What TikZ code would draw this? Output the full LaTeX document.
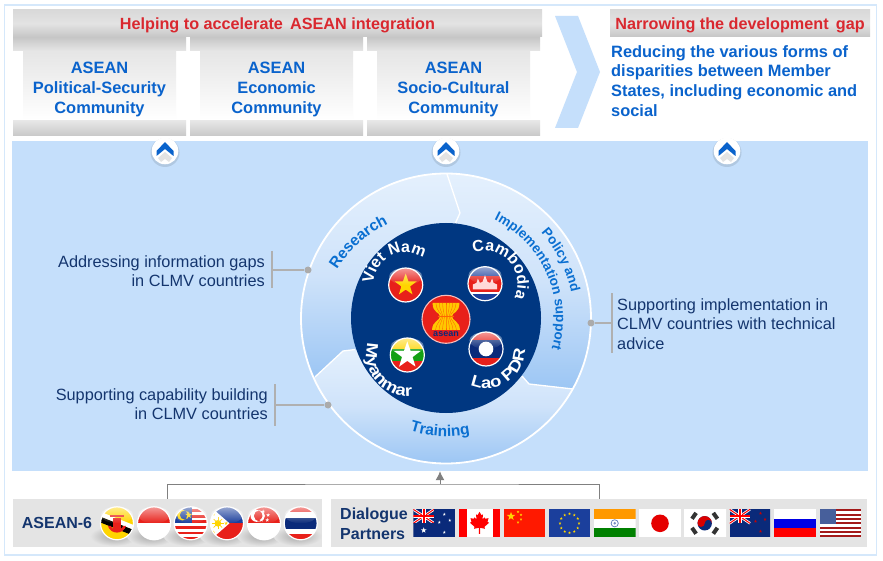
\documentclass[tikz,border=0pt]{standalone}
\usepackage{fontspec}
\setmainfont{Liberation Sans}
\usetikzlibrary{arrows.meta,decorations.text,fadings}
\definecolor{frameblue}{HTML}{D5E8FB}
\definecolor{panelblue}{HTML}{C5DFFB}
\definecolor{headred}{HTML}{D9282F}
\definecolor{headblue}{HTML}{0A63CC}
\definecolor{ringblue}{HTML}{0A6FD1}
\definecolor{labelnavy}{HTML}{14356E}
\definecolor{innernavy}{HTML}{003781}
\definecolor{barlight}{HTML}{E6E6E6}
\definecolor{bardark}{HTML}{C8C8C8}
\definecolor{bartop}{HTML}{D9D9D9}
\definecolor{barmid}{HTML}{E3E3E3}
\definecolor{barbot}{HTML}{C6C6C6}
\definecolor{bottomgray}{HTML}{E4E4E4}
\definecolor{leadgray}{HTML}{B0B0B0}
\definecolor{conngray}{HTML}{808080}
\definecolor{fred}{HTML}{E8201A}
\definecolor{fgold}{HTML}{FFD500}
\definecolor{fblue}{HTML}{1B3F9C}
\definecolor{fnavy}{HTML}{0A2A7A}
\definecolor{ugreen}{HTML}{14A014}
\newcommand\fsz[1]{\fontsize{#1}{#1}\selectfont}
\newcommand\fstar[4]{\begin{scope}[shift={(#1,#2)}]\fill[#4] (-90:#3) -- (-54:{0.4*#3}) -- (-18:#3) -- (18:{0.4*#3}) -- (54:#3) -- (90:{0.4*#3}) -- (126:#3) -- (162:{0.4*#3}) -- (198:#3) -- (234:{0.4*#3}) -- cycle;\end{scope}}
\newcommand\rflag[4]{\begin{scope}[shift={(#1,#2)},x=#3pt,y=-#3pt]
\begin{scope}\clip (0,0) circle[radius=1];#4\end{scope}
\fill[white,path fading=south,opacity=.55] (0,-.5) ellipse[x radius=.98,y radius=.5];
\draw[white,line width=1.2pt] (0,0) circle[radius=1];
\end{scope}}
\newcommand\qflag[4]{\begin{scope}[shift={(#1,#2)}]\begin{scope}\clip (0,0) rectangle (#3,28);#4\end{scope}\end{scope}}
\newcommand\ujack[2]{\fill[fnavy] (0,0) rectangle (#1,#2);
\draw[white,line width=2.6pt] (0,0) -- (#1,#2) (#1,0) -- (0,#2);
\draw[red,line width=1pt] (0,0) -- (#1,#2) (#1,0) -- (0,#2);
\draw[white,line width=3.6pt] ({#1/2},0) -- ({#1/2},#2) (0,{#2/2}) -- (#1,{#2/2});
\draw[red,line width=2.2pt] ({#1/2},0) -- ({#1/2},#2) (0,{#2/2}) -- (#1,{#2/2});}
\newcommand\arctext[7]{\begin{scope}[shift={(#1,#2)}]\path[decorate,decoration={text along path,text align=center,text={|#6|#7}}] (#4:#3) arc[start angle=#4,end angle=#5,radius=#3];\end{scope}}
\newfontfamily\widebold[FakeStretch=1.16]{Liberation Sans Bold}
\newcommand\fwhite{\fsz{16}\bfseries\color{white}}
\newcommand\fwhitewide{\widebold\fsz{16}\color{white}}
\newcommand\fring{\fsz{15.5}\bfseries\color{ringblue}}
\newcommand\fringsm{\fsz{13.5}\bfseries\color{ringblue}}
\newcommand\upbutton[1]{\begin{scope}[shift={(#1)}]
\fill[black,opacity=.10] (0,1.5) circle[radius=14.5];
\fill[white] (0,0) circle[radius=13.3];
\fill[gray!22] (-7,7) -- (0,1) -- (7,7) -- (4,11) -- (0,8) -- (-4,11) -- cycle;
\fill[headblue] (-8.5,0) -- (0,-9) -- (8.5,0) -- (8.5,5) -- (0,-2) -- (-8.5,5) -- cycle;
\end{scope}}
\tikzset{
 graybar/.style={top color=bartop,bottom color=barbot,middle color=barmid},
 headtext/.style={font=\fsz{16.2}\bfseries,text=headred,inner sep=0},
 commtext/.style={font=\fontsize{16.4}{20}\selectfont\bfseries,text=headblue,align=center,inner sep=0},
 leadtext/.style={font=\fontsize{16.3}{19.5}\selectfont,text=labelnavy,inner sep=0},
 leadline/.style={draw=leadgray,line width=1.1pt},
 leaddot/.style={circle,fill=leadgray!90!gray,minimum size=7pt,inner sep=0},
 connline/.style={draw=conngray,line width=1pt},
 divider/.style={draw=white,line width=1.3pt},
 botpanel/.style={fill=bottomgray,minimum height=48pt,inner sep=0},
 bottext/.style={font=\fontsize{16}{20}\selectfont\bfseries,text=labelnavy,inner sep=0,align=left},
}
\definecolor{ringdark}{HTML}{9CC6F4}
\definecolor{ringmid}{HTML}{CFE3FA}
\definecolor{ringtop}{HTML}{E4F0FD}
\begin{document}
\begin{tikzpicture}[x=1pt,y=-1pt]
\useasboundingbox (0,0) rectangle (883,561);
\fill[white] (0,0) rectangle (883,561);
\draw[frameblue,line width=1.4pt] (4.5,5) rectangle (876.5,555);
\shade[graybar] (13,10) rectangle (542,37);
\shade[top color=bardark,bottom color=barlight] (13,38) rectangle (186,51);
\shade[top color=bardark,bottom color=barlight] (190,38) rectangle (363,51);
\shade[top color=bardark,bottom color=barlight] (367,38) rectangle (540,51);
\shade[top color=barlight,bottom color=white] (23,52) rectangle (176,120);
\shade[top color=barlight,bottom color=white] (200,52) rectangle (353,120);
\shade[top color=barlight,bottom color=white] (377,52) rectangle (530,120);
\shade[top color=barlight,bottom color=bardark] (13,121) rectangle (186,136);
\shade[top color=barlight,bottom color=bardark] (190,121) rectangle (363,136);
\shade[top color=barlight,bottom color=bardark] (367,121) rectangle (540,136);
\shade[graybar] (610,10) rectangle (870,37);
\node[headtext] (h1) at (277.5,25.5) {Helping to accelerate\, ASEAN integration};
\node[headtext] (h2) at (740,25.5) {Narrowing the development\, gap};
\node[commtext] (c1) at (99.5,89) {ASEAN\\Political-Security\\Community};
\node[commtext] (c2) at (276.5,89) {ASEAN\\Economic\\Community};
\node[commtext] (c3) at (453.5,89) {ASEAN\\Socio-Cultural\\Community};
\fill[panelblue] (555,16) -- (578,16) -- (600,72) -- (578,128) -- (555,128) -- (577,72) -- cycle;
\node[commtext,align=left,anchor=north west,font=\fontsize{16.4}{19.7}\selectfont\bfseries] (reduce) at (611,45) {Reducing the various forms of\\disparities between Member\\States, including economic and\\social};
\node[fill=panelblue,minimum width=856pt,minimum height=330pt,inner sep=0] (panel) at (440,306) {};
\upbutton{165,151}
\upbutton{446,151}
\upbutton{727,151}
\begin{scope}
\clip (446,318.5) circle[radius=145];
\shade[top color=ringtop,bottom color=ringdark,middle color=ringmid] (447,174) -- (460,213) -- (455,224) -- (446,318) -- (355,349.5) -- (343,351) -- (315,377) -- (290,377) -- (290,174) -- cycle;
\shade[top color=ringtop,bottom color=ringdark,middle color=ringmid] (447,174) -- (610,174) -- (610,389) -- (573,389) -- (529,384) -- (522,376) -- (446,318) -- (455,224) -- (460,213) -- cycle;
\shade[top color=ringtop,bottom color=ringdark,middle color=ringmid] (355,349.5) -- (343,351) -- (315,377) -- (290,377) -- (290,463.5) -- (610,463.5) -- (610,389) -- (573,389) -- (529,384) -- (522,376) -- (446,349.5) -- cycle;
\draw[divider] (447,174) -- (460,213) -- (455,224);
\draw[divider] (573,389) -- (529,384) -- (522,376);
\draw[divider] (315,377) -- (343,351) -- (355,349.5);
\end{scope}
\draw[white,line width=1.8pt] (446,318.5) circle[radius=145];
\fill[innernavy] (446,318) circle[radius=95];
\arctext{443}{336}{125}{196}{260}{\fring}{Research}
\arctext{446}{318.5}{118}{125}{61}{\fring}{Training}
\arctext{446}{318.5}{128}{300}{366}{\fringsm}{Policy and}
\arctext{446}{318.5}{110}{272}{400}{\fringsm}{Implementation support}
\arctext{405.7}{285}{32.5}{140}{345}{\fwhite}{Viet Nam}
\arctext{485}{283.7}{32.5}{215}{420}{\fwhite}{Cambodia}
\arctext{486}{349}{39}{155}{-41}{\fwhitewide}{Lao PDR}
\arctext{407.3}{355}{41}{250}{30}{\fwhitewide}{Myanmar}
\rflag{405.7}{285}{17}{\fill[fred] (-1,-1) rectangle (1,1);\fstar{0}{0}{.68}{fgold}}
\rflag{485}{283.7}{17}{\fill[fblue] (-1,-1) rectangle (1,1);\fill[fred] (-1,-.45) rectangle (1,.5);
 \fill[white!85!red] (-.72,.34) -- (-.72,.05) -- (-.5,-.05) -- (-.42,-.3) -- (-.3,-.05) -- (-.15,-.1) -- (0,-.5) -- (.15,-.1) -- (.3,-.05) -- (.42,-.3) -- (.5,-.05) -- (.72,.05) -- (.72,.34) -- cycle;
 \fill[white] (-1,.5) rectangle (1,.62);}
\rflag{486}{349}{17}{\fill[fred] (-1,-1) rectangle (1,1);\fill[fnavy] (-1,-.55) rectangle (1,.55);\fill[white] (0,0) circle[radius=.43];}
\rflag{407.3}{355}{17}{\fill[fgold] (-1,-1) rectangle (1,-.33);\fill[ugreen] (-1,-.33) rectangle (1,.33);\fill[fred] (-1,.33) rectangle (1,1);\fstar{0}{.02}{.82}{white}}
\begin{scope}[shift={(446,319.3)},x=24pt,y=-24pt]
\fill[fred] (0,0) circle[radius=1];
\fill[fgold!85!orange] (-.56,-.68) -- (.56,-.68) .. controls (.56,-.25) and (.25,-.3) .. (.25,-.12) .. controls (.25,.05) and (.58,.08) .. (.58,.44) -- (-.58,.44) .. controls (-.58,.08) and (-.25,.05) .. (-.25,-.12) .. controls (-.25,-.3) and (-.56,-.25) .. (-.56,-.68) -- cycle;
\foreach \t in {-.75,-.5,-.25,0,.25,.5,.75}{\draw[orange!80!red,line width=.35pt] ({.56*\t},-.68) .. controls ({.5*\t},-.25) and ({.25*\t},-.3) .. ({.25*\t},-.12) .. controls ({.25*\t},.05) and ({.5*\t},.08) .. ({.58*\t},.44);}
\draw[orange!80!red,line width=.5pt] (-.32,-.12) -- (.32,-.12);
\node[font=\fsz{9}\bfseries,text=fnavy,inner sep=0] (aseantext) at (0,.6) {asean};
\draw[white!70!fred,line width=1.1pt] (0,0) circle[radius=1];
\end{scope}
\node[leaddot] (d1) at (308,270) {};
\node[leaddot] (d2) at (328,405) {};
\node[leaddot] (d3) at (591,323) {};
\coordinate (b1) at (272,270);
\coordinate (b2) at (275,405);
\coordinate (b3) at (612,323);
\draw[leadline] (272,251) -- (272,288);
\draw[leadline] (275,384) -- (275,426);
\draw[leadline] (612,293) -- (612,353);
\draw[leadline] (b1) -- (d1);
\draw[leadline] (b2) -- (d2);
\draw[leadline] (b3) -- (d3);
\node[leadtext,align=right,anchor=east] (l1) at (265,271) {Addressing information gaps\\in CLMV countries};
\node[leadtext,align=right,anchor=east] (l2) at (268,404) {Supporting capability building\\in CLMV countries};
\node[leadtext,align=left,anchor=west] (l3) at (617,324) {Supporting implementation in\\CLMV countries with technical\\advice};
\node[botpanel,minimum width=309pt] (asean6) at (167.5,523) {};
\node[botpanel,minimum width=536pt] (dialogue) at (599,523) {};
\coordinate (hub) at (440,484);
\draw[connline] (asean6.north) |- (hub) -| (dialogue.north);
\draw[connline,-{Latex[length=9pt,width=9pt]}] (hub) -- (panel.south);
\node[bottext] (t6) at (57,523) {ASEAN-6};
\node[bottext] (tdp) at (374,523.5) {Dialogue\\Partners};
\foreach \cx in {117,154,190.7,227,264,300.7}{
 \shade[inner color=gray!70,outer color=bottomgray] (\cx-3,536) ellipse[x radius=24,y radius=10];}
\rflag{117}{523.3}{16.5}{\fill[fgold] (-1,-1) rectangle (1,1);\fill[white] (-1,-.7) -- (1,.1) -- (1,.4) -- (-1,-.4) -- cycle;\fill[black] (-1,-.4) -- (1,.4) -- (1,.75) -- (-1,-.05) -- cycle;\fill[fred] (-.22,-.35) rectangle (.22,.45);\fill[fred] (-.55,.15) .. controls (-.4,.7) and (.4,.7) .. (.55,.15) -- (.4,.15) .. controls (.3,.45) and (-.3,.45) .. (-.4,.15) -- cycle;\fill[fred] (-.4,-.5) rectangle (.4,-.38);}
\rflag{154}{523.3}{16.5}{\fill[fred] (-1,-1) rectangle (1,0);\fill[white] (-1,0) rectangle (1,1);}
\rflag{190.7}{523.3}{16.5}{\fill[white] (-1,-1) rectangle (1,1);\foreach \y in {-.86,-.52,-.18,.16,.5,.84}{\fill[fred] (-1,\y) rectangle (1,\y+.17);}\fill[fblue] (-1,-1) rectangle (.05,0);\fill[fgold,even odd rule] (-.5,-.5) circle[radius=.33] (-.38,-.5) circle[radius=.28];\fstar{-.12}{-.5}{.22}{fgold}}
\rflag{227}{523.3}{16.5}{\fill[fblue] (-1,-1) rectangle (1,0);\fill[fred] (-1,0) rectangle (1,1);\fill[white] (-1,-1) -- (.15,0) -- (-1,1) -- cycle;\fill[fgold] (-.55,0) circle[radius=.2];\foreach \a in {0,45,...,315}{\draw[fgold,line width=.7pt] (-.55,0) -- ++(\a:.36);}\fstar{-.82}{-.55}{.11}{fgold}\fstar{-.82}{.55}{.11}{fgold}\fstar{-.05}{0}{.11}{fgold}}
\rflag{264}{523.3}{16.5}{\fill[fred] (-1,-1) rectangle (1,0);\fill[white] (-1,0) rectangle (1,1);\fill[white,even odd rule] (-.45,-.45) circle[radius=.36] (-.28,-.45) circle[radius=.34];\fstar{-.05}{-.72}{.12}{white}\fstar{.25}{-.5}{.12}{white}\fstar{.2}{-.2}{.12}{white}\fstar{-.15}{-.2}{.12}{white}}
\rflag{300.7}{523.3}{16.5}{\fill[fred] (-1,-1) rectangle (1,1);\fill[white] (-1,-.66) rectangle (1,.66);\fill[fnavy] (-1,-.33) rectangle (1,.33);}
\qflag{413.3}{509.3}{41.7}{\ujack{20.8}{14}\fill[fnavy] (20.8,0) rectangle (42,28);\fill[fnavy] (0,14) rectangle (21,28);\fstar{10.4}{21}{3}{white}\fstar{31}{5}{1.6}{white}\fstar{36.5}{11}{1.6}{white}\fstar{26}{13}{1.6}{white}\fstar{31}{23}{1.6}{white}}
\qflag{459}{509.3}{41}{\fill[white] (0,0) rectangle (41,28);\fill[red] (0,0) rectangle (7.5,28);\fill[red] (33.5,0) rectangle (41,28);
 \begin{scope}[shift={(20.5,13.5)}]\fill[red] (0,-11) -- (2,-7.5) -- (3.5,-8.5) -- (3,-3.5) -- (5,-5.5) -- (5.7,-4) -- (9,-4.7) -- (8,-1) -- (9.5,0) -- (5,4) -- (5.5,6) -- (.6,5) -- (.6,11) -- (-.6,11) -- (-.6,5) -- (-5.5,6) -- (-5,4) -- (-9.5,0) -- (-8,-1) -- (-9,-4.7) -- (-5.7,-4) -- (-5,-5.5) -- (-3,-3.5) -- (-3.5,-8.5) -- (-2,-7.5) -- cycle;\end{scope}}
\qflag{504}{509.3}{41}{\fill[red!80!orange] (0,0) rectangle (41,28);\fstar{7}{7}{4.5}{fgold}\fstar{14}{2.5}{1.4}{fgold}\fstar{17}{5.5}{1.4}{fgold}\fstar{17}{10}{1.4}{fgold}\fstar{14}{13}{1.4}{fgold}}
\qflag{549}{509.3}{41}{\fill[fblue] (0,0) rectangle (41,28);\begin{scope}[shift={(20.5,14)}]\foreach \a in {0,30,...,330}{\begin{scope}[shift={(\a:9.5)}]\fstar{0}{0}{1.5}{fgold}\end{scope}}\end{scope}}
\qflag{594}{509.3}{41.5}{\fill[orange!80!yellow] (0,0) rectangle (42,9.3);\fill[white] (0,9.3) rectangle (42,18.6);\fill[green!50!black] (0,18.6) rectangle (42,28);\draw[fblue!70!white,line width=.7pt] (20.7,14) circle[radius=3.6];\fill[fblue!60!white] (20.7,14) circle[radius=1.4];}
\qflag{639}{509.3}{42}{\fill[white] (0,0) rectangle (42,28);\fill[red!90!black] (21,14) circle[radius=8.8];}
\qflag{683.7}{509.3}{42.3}{\fill[white] (0,0) rectangle (43,28);
 \fill[fnavy] (21,14) circle[radius=7.2];\fill[red!85!black] (13.8,14) arc[start angle=180,end angle=360,radius=7.2] arc[start angle=0,end angle=-180,radius=3.6] arc[start angle=0,end angle=180,radius=3.6] -- cycle;
 \foreach \a in {35,145,215,325}{\begin{scope}[shift={(21,14)},rotate=\a]\fill[gray!40!black] (11,-3.6) rectangle (15,3.6);\end{scope}}}
\qflag{729.5}{509.3}{40.5}{\fill[fnavy] (0,0) rectangle (41,28);\begin{scope}\ujack{20.5}{14}\end{scope}\fstar{31}{4}{1.7}{red!80!black}\fstar{26}{12}{1.7}{red!80!black}\fstar{35.5}{10}{1.7}{red!80!black}\fstar{31}{22}{1.7}{red!80!black}}
\qflag{774}{509.3}{42}{\fill[white] (0,0) rectangle (42,9.3);\fill[blue!90!black] (0,9.3) rectangle (42,18.6);\fill[red] (0,18.6) rectangle (42,28);}
\qflag{820}{509.3}{41}{\fill[white] (0,0) rectangle (41,28);\foreach \i in {0,2,...,12}{\fill[red!60!black!90!white] (0,{\i*28/13}) rectangle (41,{(\i+1)*28/13});}\fill[fnavy!75!white] (0,0) rectangle (16,15);}
\end{tikzpicture}
\end{document}
